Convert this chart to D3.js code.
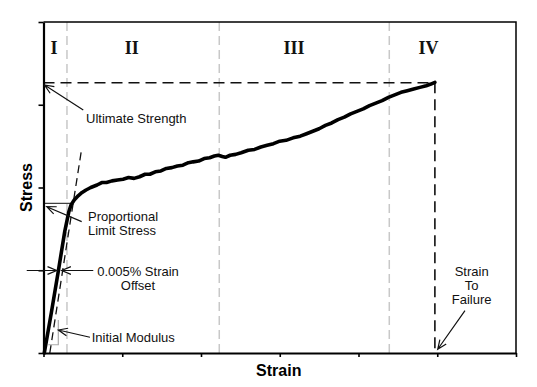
<!DOCTYPE html>
<html><head><meta charset="utf-8">
<script src="https://cdn.jsdelivr.net/npm/d3@7"></script>
<style>body{margin:0;background:#fff}svg{display:block}</style>
</head><body>
<svg id="c" width="537" height="387"></svg>
<script>
// ---- data (strain, stress in arbitrary units) ----
const strain = [0.01,0.10,0.19,0.27,0.32,0.35,0.39,0.44,0.49,0.54,0.60,0.68,0.74,0.80,0.87,0.94,1.01,1.08,1.15,1.22,1.29,1.35,1.42,1.49,1.56,1.63,1.70,1.77,1.84,1.90,1.97,2.04,2.11,2.17,2.22,2.27,2.31,2.37,2.44,2.51,2.60,2.68,2.76,2.84,2.92,3.00,3.08,3.17,3.26,3.34,3.42,3.50,3.58,3.66,3.74,3.82,3.90,3.98,4.06,4.14,4.22,4.30,4.38,4.46,4.54,4.62,4.70,4.78,4.86,4.92,4.97];
const stress = [0.00,0.49,1.00,1.47,1.70,1.79,1.85,1.90,1.94,1.97,2.00,2.03,2.06,2.06,2.08,2.09,2.10,2.12,2.11,2.13,2.16,2.16,2.19,2.20,2.23,2.24,2.26,2.27,2.30,2.31,2.32,2.35,2.36,2.38,2.39,2.375,2.365,2.39,2.40,2.42,2.45,2.46,2.49,2.51,2.53,2.56,2.57,2.60,2.62,2.65,2.68,2.71,2.75,2.78,2.82,2.85,2.89,2.92,2.95,2.99,3.02,3.05,3.09,3.12,3.15,3.17,3.19,3.21,3.23,3.25,3.27];
const xTicks = [0,1,2,3,4,5,6];
const yTicks = [0,1,2,3,4];
const regionBounds = [0.298, 2.232, 4.391];
const regionLabels = ["I","II","III","IV"];
const regionLabelX = [0.133, 1.12, 3.18, 4.89];
const ultimateStrength = 3.266;
const strainToFailure = 4.97;
const propLimit = {x:0.358, y:1.809};
const offsetLine = [[0.08,0],[0.48,2.44]];
const modulusTri = [[0.061,0.10],[0.188,0.10],[0.188,0.40]];

const W=537,H=387;
const m={l:43.5,r:21,t:22,b:34};
const x=d3.scaleLinear().domain([0,6]).range([m.l,W-m.r]);
const y=d3.scaleLinear().domain([0,4]).range([H-m.b,m.t]);
const svg=d3.select("#c");

// region dividers
svg.selectAll(".reg").data(regionBounds).join("line")
  .attr("x1",d=>x(d)).attr("x2",d=>x(d)).attr("y1",y(4)).attr("y2",y(0))
  .attr("stroke","#c8c8c8").attr("stroke-width",1.5).attr("stroke-dasharray","9,5");

// region labels
svg.selectAll(".rl").data(regionLabels).join("text")
  .attr("x",(d,i)=>x(regionLabelX[i])).attr("y",y(3.613))
  .attr("text-anchor","middle").attr("font-family","'Liberation Serif','Times New Roman',serif")
  .attr("font-weight","bold").attr("font-size",18).attr("fill","#111").text(d=>d);

// frame top & right
svg.append("path").attr("d",`M${x(0)},${y(4)}H${x(6)}V${y(0)}`).attr("fill","none")
  .attr("stroke","#000").attr("stroke-width",1.5);

// ultimate strength & strain to failure dashed
svg.append("path").attr("d",`M${x(0)},${y(ultimateStrength)}H${x(strainToFailure)}V${y(0)}`)
  .attr("fill","none").attr("stroke","#111").attr("stroke-width",1.6).attr("stroke-dasharray","11,6");

// offset line
svg.append("line").attr("x1",x(offsetLine[0][0])).attr("y1",y(offsetLine[0][1]))
  .attr("x2",x(offsetLine[1][0])).attr("y2",y(offsetLine[1][1]))
  .attr("stroke","#111").attr("stroke-width",1.3).attr("stroke-dasharray","8,5");

// modulus triangle
svg.append("path").attr("d",d3.line().x(d=>x(d[0])).y(d=>y(d[1]))(modulusTri))
  .attr("fill","none").attr("stroke","#aaa").attr("stroke-width",1.2);

// proportional limit horizontal line
svg.append("line").attr("x1",x(0)).attr("x2",x(propLimit.x)).attr("y1",y(propLimit.y)).attr("y2",y(propLimit.y))
  .attr("stroke","#111").attr("stroke-width",1);

// curve
const pts=strain.map((s,i)=>[s,stress[i]]);
svg.append("path").attr("d",d3.line().x(d=>x(d[0])).y(d=>y(d[1]))(pts))
  .attr("fill","none").attr("stroke","#000").attr("stroke-width",3.6)
  .attr("stroke-linejoin","round").attr("stroke-linecap","round");

// axes
svg.append("g").attr("transform",`translate(0,${y(0)})`)
  .call(d3.axisBottom(x).tickValues(xTicks).tickFormat("").tickSizeInner(4).tickSizeOuter(0))
  .call(g=>g.select(".domain").attr("stroke-width",2.2))
  .call(g=>g.selectAll(".tick line").attr("stroke-width",1.6));
svg.append("g").attr("transform",`translate(${x(0)},0)`)
  .call(d3.axisLeft(y).tickValues(yTicks).tickFormat("").tickSizeInner(5).tickSizeOuter(0))
  .call(g=>g.select(".domain").attr("stroke-width",2.2))
  .call(g=>g.selectAll(".tick line").attr("stroke-width",1.6));

// axis titles
svg.append("text").attr("x",x(3)-1).attr("y",376).attr("text-anchor","middle")
  .attr("font-family","'Liberation Sans',Arial,sans-serif").attr("font-weight","bold").attr("font-size",16).text("Strain");
svg.append("text").attr("transform",`translate(32,${y(2)}) rotate(-90)`).attr("text-anchor","middle")
  .attr("font-family","'Liberation Sans',Arial,sans-serif").attr("font-weight","bold").attr("font-size",16).text("Stress");

// annotations: [tailX, tailY, tipX, tipY] in data units
const arrows=[
  [0.505,2.937,0.013,3.239],
  [0.485,1.587,0.041,1.768],
  [-0.213,0.997,0.168,0.997],
  [0.632,0.997,0.231,0.997],
  [0.59,0.19,0.188,0.278],
  [5.352,0.511,5.006,0.045]
];
const ag=svg.append("g").attr("stroke","#111").attr("stroke-width",1.2).attr("fill","none");
arrows.forEach(a=>{
  const x1=x(a[0]),y1=y(a[1]),x2=x(a[2]),y2=y(a[3]);
  const ang=Math.atan2(y2-y1,x2-x1),L=10,s=0.4;
  ag.append("path").attr("d",`M${x1},${y1}L${x2},${y2}M${x2-L*Math.cos(ang-s)},${y2-L*Math.sin(ang-s)}L${x2},${y2}L${x2-L*Math.cos(ang+s)},${y2-L*Math.sin(ang+s)}`);
});

const labels=[
  {t:"Ultimate Strength",x:0.54,y:2.783,a:"start"},
  {t:"Proportional",x:0.565,y:1.592,a:"start"},
  {t:"Limit Stress",x:0.565,y:1.421,a:"start"},
  {t:"0.005% Strain",x:1.2,y:0.93,a:"middle"},
  {t:"Offset",x:1.2,y:0.762,a:"middle"},
  {t:"Initial Modulus",x:0.612,y:0.129,a:"start"},
  {t:"Strain",x:5.437,y:0.935,a:"middle"},
  {t:"To",x:5.437,y:0.765,a:"middle"},
  {t:"Failure",x:5.437,y:0.589,a:"middle"}
];
svg.selectAll(".lab").data(labels).join("text")
  .attr("x",d=>x(d.x)).attr("y",d=>y(d.y)).attr("text-anchor",d=>d.a)
  .attr("font-family","'Liberation Sans',Arial,sans-serif").attr("font-size",13).attr("fill","#111").text(d=>d.t);
</script>
</body></html>
